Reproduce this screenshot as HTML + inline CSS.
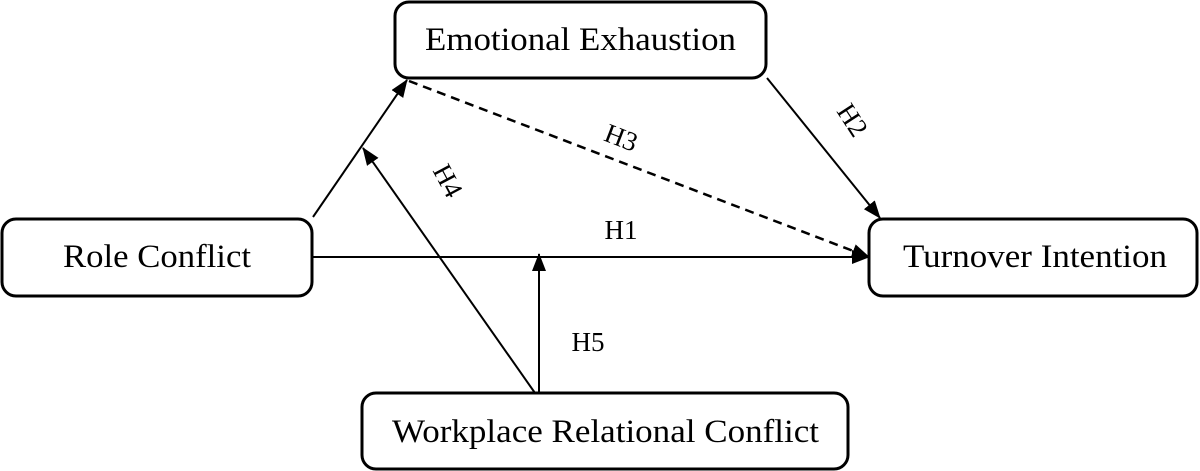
<!DOCTYPE html>
<html><head><style>
html,body{margin:0;padding:0;background:#fff;}
svg{display:block;}
text{font-family:"Liberation Serif",serif;fill:#000;}
</style></head><body>
<svg width="1200" height="471" viewBox="0 0 1200 471" xmlns="http://www.w3.org/2000/svg">
<defs>
<marker id="b" markerWidth="18" markerHeight="14" refX="17" refY="7" orient="auto" markerUnits="userSpaceOnUse">
<path d="M0,0 L18,7 L0,14 z" fill="#000"/>
</marker>
</defs>
<g fill="none" stroke="#000" stroke-width="3">
<rect x="395" y="2" width="371" height="76" rx="14"/>
<rect x="2" y="219" width="310" height="77" rx="14"/>
<rect x="869" y="219" width="328" height="77" rx="14"/>
<rect x="362" y="393" width="486" height="76" rx="14"/>
</g>
<g stroke="#000" stroke-width="2" fill="none">
<line x1="313" y1="217" x2="407" y2="80" marker-end="url(#b)"/>
<line x1="767" y1="78" x2="880" y2="218" marker-end="url(#b)"/>
<line x1="312" y1="257" x2="869" y2="257" marker-end="url(#b)"/>
<line x1="409" y1="81" x2="869" y2="257" stroke-dasharray="9,6" stroke-width="2.5" marker-end="url(#b)"/>
<line x1="539" y1="393" x2="539" y2="254" marker-end="url(#b)"/>
<line x1="535" y1="393" x2="363" y2="148" marker-end="url(#b)"/>
</g>
<g font-size="33">
<text x="425" y="50" textLength="311" lengthAdjust="spacingAndGlyphs">Emotional Exhaustion</text>
<text x="63" y="267" textLength="188" lengthAdjust="spacingAndGlyphs">Role Conflict</text>
<text x="903" y="267" textLength="264" lengthAdjust="spacingAndGlyphs">Turnover Intention</text>
<text x="392" y="442" textLength="427" lengthAdjust="spacingAndGlyphs">Workplace Relational Conflict</text>
</g>
<g font-size="27" text-anchor="middle">
<text x="621" y="239">H1</text>
<text x="588" y="351">H5</text>
<text transform="translate(618,146) rotate(21)">H3</text>
<text transform="translate(845,125) rotate(57)">H2</text>
<text transform="translate(440,185) rotate(62)">H4</text>
</g>
</svg>
</body></html>
